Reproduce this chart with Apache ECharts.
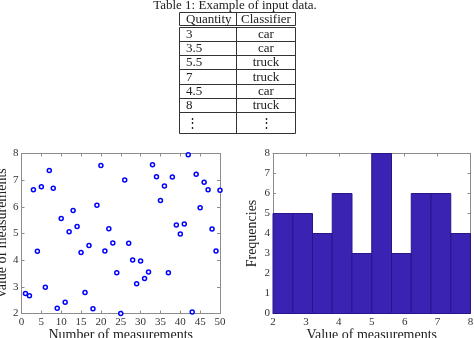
<!DOCTYPE html>
<html><head><meta charset="utf-8">
<script src="https://cdn.jsdelivr.net/npm/echarts@6/dist/echarts.min.js"></script>
<style>html,body{margin:0;padding:0;background:#fff}#c{width:474px;height:338px}</style>
</head><body><div id="c"></div>
<script>
// ---- data ----
const measurementNumbers = [1,2,3,4,5,6,7,8,9,10,11,12,13,14,15,16,17,18,19,20,21,22,23,24,25,26,27,28,29,30,31,32,33,34,35,36,37,38,39,40,41,42,43,44,45,46,47,48,49,50];
const measurementValues = [2.75,2.67,6.64,4.33,6.75,2.98,7.36,6.70,2.20,5.56,2.42,5.07,5.86,5.26,4.29,2.79,4.55,2.18,6.06,7.55,4.34,5.18,4.64,3.53,2.0,7.01,4.63,4.01,3.12,3.97,3.31,3.56,7.58,7.13,6.24,6.78,3.53,7.12,5.32,4.98,5.36,7.95,2.06,7.22,5.97,6.92,6.64,5.17,4.34,6.62];
const binEdges = [2,2.6,3.2,3.8,4.4,5,5.6,6.2,6.8,7.4,8];
const binCounts = [5,5,4,6,3,8,3,6,6,4];
const tableCaption = 'Table 1: Example of input data.';
const tableHeader = ['Quantity','Classifier'];
const tableQuantities = ['3','3.5','5.5','7','4.5','8','\u22EE'];
const tableClassifiers = ['car','car','truck','truck','car','truck','\u22EE'];

// ---- style ----
const SERIF = 'Liberation Serif';
const AXIS_COLOR = '#8c8c8c';
const LABEL_COLOR = '#333';
const TFONT = '13px "' + SERIF + '"';

function valAxis(gridIndex, pos, min, max, interval, opts) {
  const main = pos === 'bottom' || pos === 'left';
  return Object.assign({
    type: 'value', gridIndex, position: pos, min, max, interval,
    axisLine: {show: true, onZero: false, lineStyle: {color: AXIS_COLOR, width: 1}},
    axisTick: {show: true, inside: true, length: 3, lineStyle: {color: AXIS_COLOR}},
    axisLabel: {show: main, color: LABEL_COLOR, fontFamily: SERIF, fontSize: 11, margin: 3, showMinLabel: true, showMaxLabel: true},
    splitLine: {show: false},
    nameTextStyle: {fontFamily: SERIF, fontSize: 14, color: '#222'}
  }, opts || {});
}

// table graphics
const tL = 179.5, tM = 236.5, tR = 295.5;
const hLines = [12.5, 25.5, 27.5, 41.5, 55.5, 69.5, 84.5, 98.5, 112.5, 133.5];
const graphic = [];
graphic.push({type: 'text', style: {text: tableCaption, x: 235, y: 6, align: 'center', verticalAlign: 'middle', font: TFONT, fill: '#222'}});
hLines.forEach(y => graphic.push({type: 'line', shape: {x1: tL, y1: y, x2: tR, y2: y}, style: {stroke: '#333', lineWidth: 1}}));
[tL, tM, tR].forEach(x => graphic.push({type: 'line', shape: {x1: x, y1: 12.5, x2: x, y2: 25.5}, style: {stroke: '#333', lineWidth: 1}}));
[tL, tM, tR].forEach(x => graphic.push({type: 'line', shape: {x1: x, y1: 27.5, x2: x, y2: 133.5}, style: {stroke: '#333', lineWidth: 1}}));
graphic.push({type: 'text', style: {text: tableHeader[0], x: 186, y: 19.5, align: 'left', verticalAlign: 'middle', font: TFONT, fill: '#222'}});
graphic.push({type: 'text', style: {text: tableHeader[1], x: 266, y: 19.5, align: 'center', verticalAlign: 'middle', font: TFONT, fill: '#222'}});
const rowTops = [27.5, 41.5, 55.5, 69.5, 84.5, 98.5, 112.5, 133.5];
tableQuantities.forEach((q, i) => {
  const cy = (rowTops[i] + rowTops[i + 1]) / 2 + 0.5;
  graphic.push({type: 'text', style: {text: q, x: 186, y: cy, align: 'left', verticalAlign: 'middle', font: TFONT, fill: '#222'}});
  graphic.push({type: 'text', style: {text: tableClassifiers[i], x: 266, y: cy, align: 'center', verticalAlign: 'middle', font: TFONT, fill: '#222'}});
});

const chart = echarts.init(document.getElementById('c'), null, {renderer: 'canvas'});
chart.setOption({
  animation: false,
  backgroundColor: '#fff',
  graphic: graphic,
  grid: [
    {left: 21.5, top: 153.5, width: 198.5, height: 160, containLabel: false, outerBoundsMode: 'none'},
    {left: 273, top: 153.5, width: 197.5, height: 160, containLabel: false, outerBoundsMode: 'none'}
  ],
  xAxis: [
    valAxis(0, 'bottom', 0, 50, 5, {name: 'Number of measurements', nameLocation: 'middle', nameGap: 13}),
    valAxis(0, 'top', 0, 50, 5),
    valAxis(1, 'bottom', 2, 8, 1, {name: 'Value of measurements', nameLocation: 'middle', nameGap: 14}),
    valAxis(1, 'top', 2, 8, 1)
  ],
  yAxis: [
    valAxis(0, 'left', 2, 8, 1, {name: 'Value of measurements', nameLocation: 'middle', nameGap: 12}),
    valAxis(0, 'right', 2, 8, 1),
    valAxis(1, 'left', 0, 8, 1, {name: 'Frequencies', nameLocation: 'middle', nameGap: 14}),
    valAxis(1, 'right', 0, 8, 1)
  ],
  series: [
    {
      type: 'scatter', xAxisIndex: 0, yAxisIndex: 0,
      data: measurementNumbers.map((n, i) => [n, measurementValues[i]]),
      symbol: 'circle', symbolSize: 4,
      itemStyle: {color: '#ffffff', borderColor: '#0000ff', borderWidth: 1.5, opacity: 1},
      clip: false, z: 5
    },
    {
      type: 'custom', xAxisIndex: 2, yAxisIndex: 2,
      data: binCounts.map((c, i) => [binEdges[i], binEdges[i + 1], c]),
      encode: {x: [0, 1], y: 2},
      renderItem: function (params, api) {
        const p0 = api.coord([api.value(0), api.value(2)]);
        const p1 = api.coord([api.value(1), 0]);
        return {type: 'rect', shape: {x: p0[0], y: p0[1], width: p1[0] - p0[0], height: p1[1] - p0[1]},
          style: {fill: '#3a22b2', stroke: '#25168a', lineWidth: 1}};
      },
      z: 2
    }
  ]
});
</script></body></html>
